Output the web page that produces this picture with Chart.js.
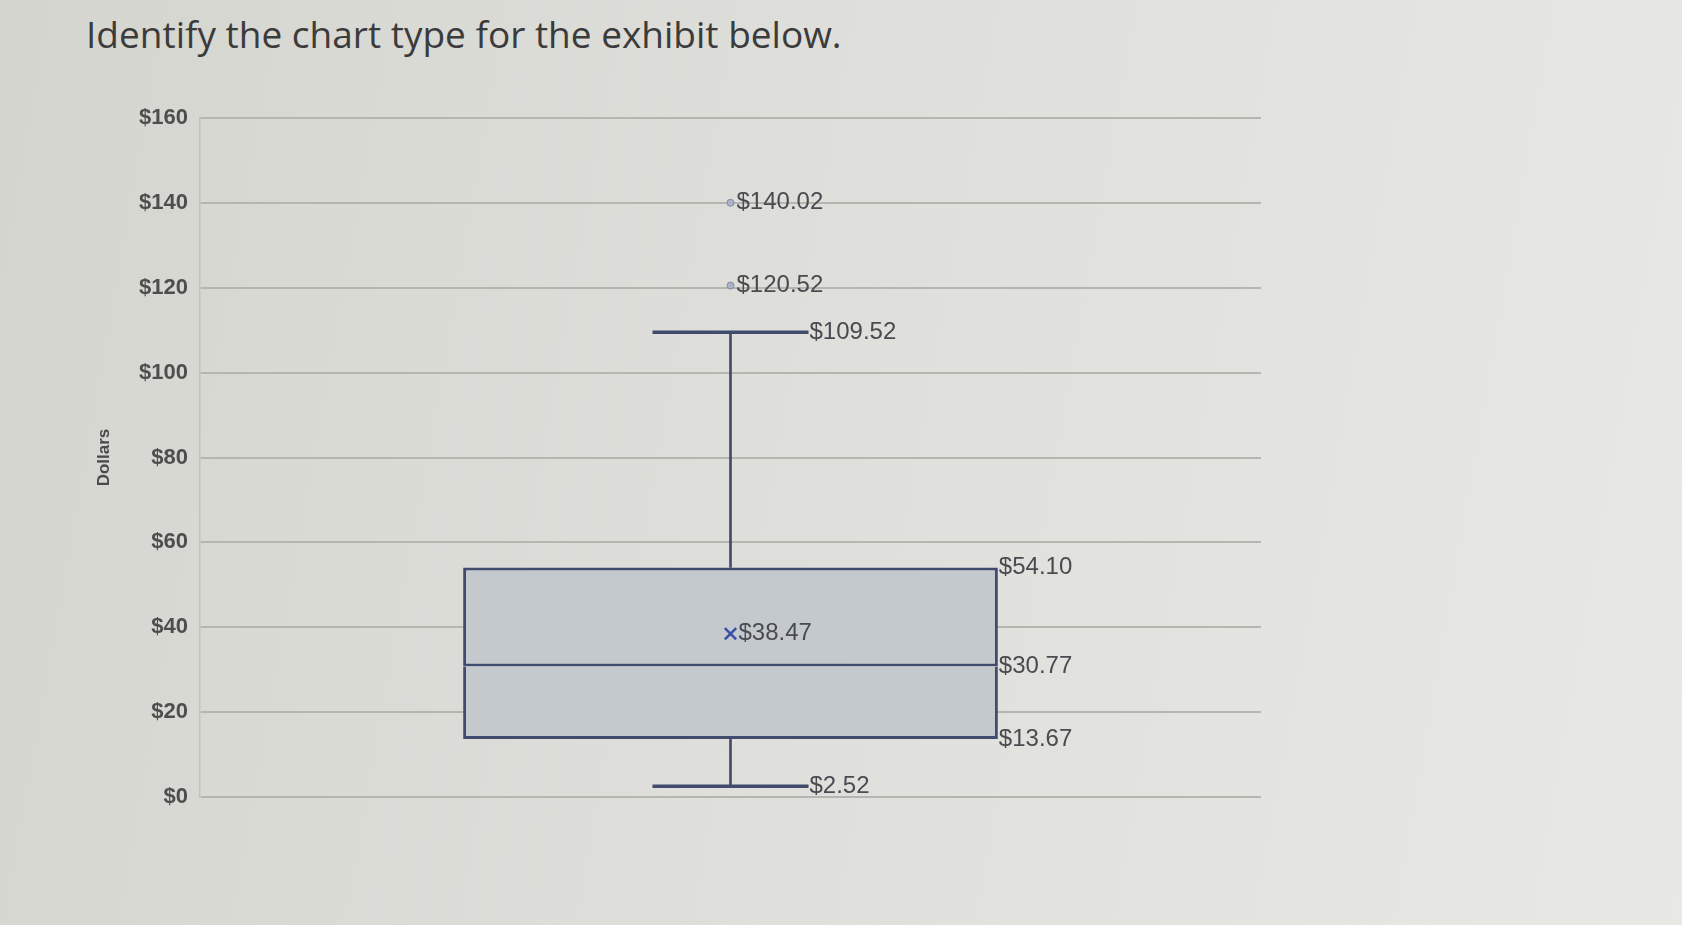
<!DOCTYPE html>
<html>
<head>
<meta charset="utf-8">
<script src="https://cdn.jsdelivr.net/npm/chart.js@4.4.1/dist/chart.umd.min.js"></script>
<style>
    html, body { margin: 0; padding: 0; width: 1682px; height: 925px; overflow: hidden; }
    body {
        position: relative;
        background: linear-gradient(100deg, #d5d5d0 0%, #dededa 45%, #e8e8e5 100%);
        font-family: 'Open Sans', sans-serif;
    }
    #title { position: absolute; left: 86px; top: 8px; font-size: 37px; color: #3b3b3b; white-space: nowrap; }
    #wrap { position: absolute; left: 0; top: 0; width: 1682px; height: 925px; }
</style>
</head>
<body>
<div id="title">Identify the chart type for the exhibit below.</div>
<div id="wrap"><canvas id="boxChart"></canvas></div>
<script>
// Box plot values
const categories = ['Total'];
const whiskerLow = [2.52];
const quartile1 = [13.67];
const medians = [30.77];
const quartile3 = [54.10];
const whiskerHigh = [109.52];
const means = [38.47];
const outliers = [120.52, 140.02];
const yTicks = [0, 20, 40, 60, 80, 100, 120, 140, 160];

const navy = '#414b6e';
const labelFont = '24px "Liberation Sans Narrow", "Liberation Sans", Arial, sans-serif';

function money(v) {
    return '$' + v.toFixed(2);
}

// Value labels next to the marks
const valueLabels = {
    id: 'valueLabels',
    afterDatasetsDraw(chart) {
        const ctx = chart.ctx;
        const y = chart.scales.y;
        ctx.save();
        ctx.font = labelFont;
        ctx.fillStyle = '#4a4a50';
        ctx.textBaseline = 'middle';
        ctx.textAlign = 'left';
        chart.data.datasets.forEach((ds, i) => {
            if (!ds.tag) return;
            const meta = chart.getDatasetMeta(i);
            meta.data.forEach((el, j) => {
                if (ds.tag === 'box') {
                    const right = el.x + el.width / 2 + 1;
                    [quartile1[j], medians[j], quartile3[j]].forEach(v => {
                        ctx.fillText(money(v), right, y.getPixelForValue(v));
                    });
                } else if (ds.tag === 'cap') {
                    const v = ds.data[j].y;
                    ctx.fillText(money(v), el.x + ds.pointRadius + 1, y.getPixelForValue(v));
                } else if (ds.tag === 'outlier') {
                    const v = ds.data[j].y;
                    ctx.fillText(money(v), el.x + 6, y.getPixelForValue(v));
                } else if (ds.tag === 'mean') {
                    const v = ds.data[j].y;
                    ctx.fillText(money(v), el.x + 8, y.getPixelForValue(v));
                }
            });
        });
        ctx.restore();
    }
};

const ctx = document.getElementById('boxChart').getContext('2d');
new Chart(ctx, {
    type: 'bar',
    data: {
        labels: categories,
        datasets: [
            {
                // lower half of box (median line comes from the upper half)
                tag: 'box',
                data: quartile1.map((v, i) => [v, medians[i]]),
                backgroundColor: '#c3c9cd',
                borderColor: navy,
                borderWidth: 3,
                borderSkipped: 'top',
                barPercentage: 0.504,
                categoryPercentage: 1,
                grouped: false,
                order: 2
            },
            {
                // upper half of box
                data: medians.map((v, i) => [v, quartile3[i]]),
                backgroundColor: '#c3c9cd',
                borderColor: navy,
                borderWidth: 3,
                borderSkipped: false,
                barPercentage: 0.504,
                categoryPercentage: 1,
                grouped: false,
                order: 2
            },
            {
                // lower whisker
                data: whiskerLow.map((v, i) => [v, quartile1[i]]),
                backgroundColor: navy,
                barThickness: 2,
                grouped: false,
                order: 3
            },
            {
                // upper whisker
                data: quartile3.map((v, i) => [v, whiskerHigh[i]]),
                backgroundColor: navy,
                barThickness: 2,
                grouped: false,
                order: 3
            },
            {
                // whisker caps
                type: 'line',
                tag: 'cap',
                data: [
                    { x: categories[0], y: whiskerLow[0] },
                    { x: categories[0], y: whiskerHigh[0] }
                ],
                showLine: false,
                pointStyle: 'line',
                pointRadius: 78,
                pointBorderWidth: 3.5,
                borderColor: navy,
                order: 1
            },
            {
                type: 'line',
                tag: 'outlier',
                data: outliers.map(v => ({ x: categories[0], y: v })),
                showLine: false,
                pointStyle: 'circle',
                pointRadius: 3.5,
                pointBorderWidth: 1,
                borderColor: '#7d8aa3',
                backgroundColor: '#aab4c6',
                order: 1
            },
            {
                type: 'line',
                tag: 'mean',
                data: means.map(v => ({ x: categories[0], y: v })),
                showLine: false,
                pointStyle: 'crossRot',
                pointRadius: 8,
                pointBorderWidth: 2.5,
                borderColor: '#3a4ea6',
                order: 1
            }
        ]
    },
    options: {
        responsive: true,
        maintainAspectRatio: false,
        animation: false,
        layout: {
            padding: { top: 118, bottom: 128, left: 94, right: 421 }
        },
        plugins: {
            legend: { display: false },
            tooltip: { enabled: false }
        },
        scales: {
            x: {
                display: false
            },
            y: {
                min: 0,
                max: 160,
                afterFit: scale => { scale.width = 106; },
                afterBuildTicks: scale => {
                    scale.ticks = yTicks.map(v => ({ value: v }));
                },
                grid: {
                    color: '#b6b6b1',
                    lineWidth: 2,
                    drawTicks: false
                },
                border: {
                    display: true,
                    color: '#c2c2bd',
                    width: 1.5
                },
                ticks: {
                    padding: 12,
                    color: '#4e4e4e',
                    font: { family: '"Liberation Sans", Arial, sans-serif', size: 22, weight: 'bold' },
                    callback: v => '$' + v
                },
                title: {
                    display: true,
                    text: 'Dollars',
                    color: '#4a4a4a',
                    padding: 0,
                    font: { family: '"Liberation Sans", Arial, sans-serif', size: 17, weight: 'bold' }
                }
            }
        }
    },
    plugins: [valueLabels]
});
</script>
</body>
</html>
